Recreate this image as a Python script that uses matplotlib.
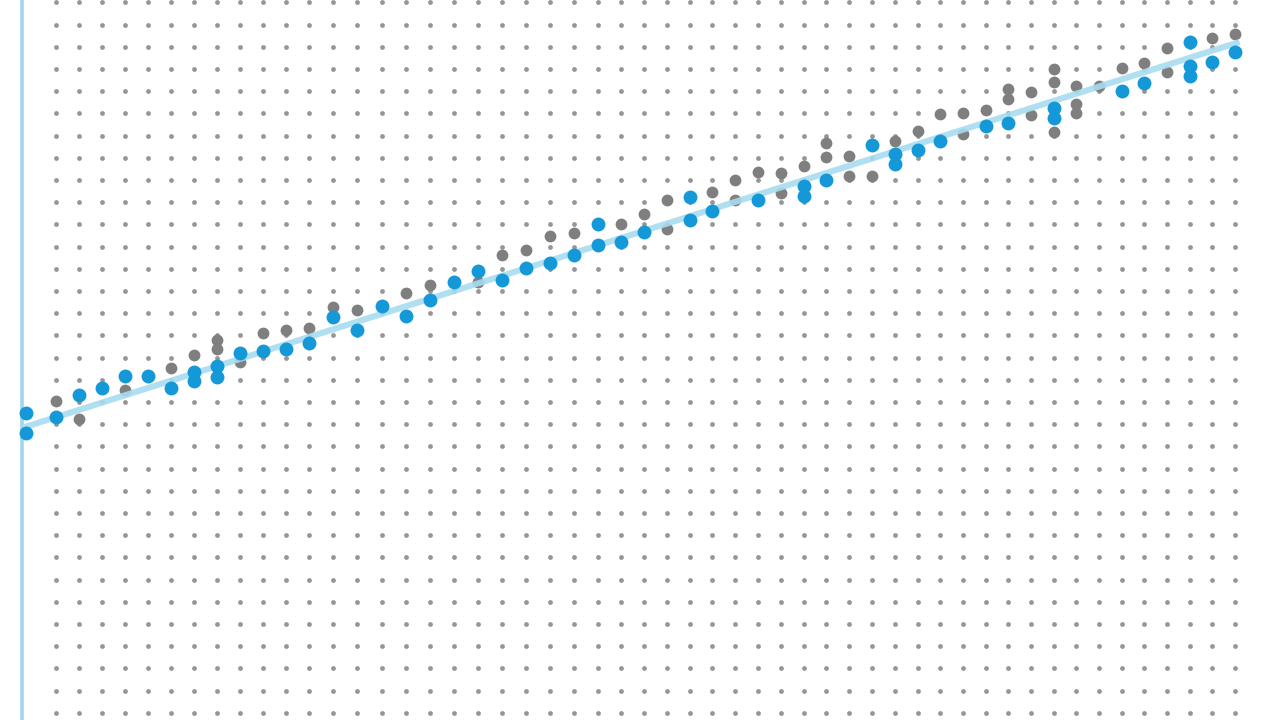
import numpy as np
import matplotlib
matplotlib.use("Agg")
import matplotlib.pyplot as plt

# blue series: (column index, value)
blue_x = [-1.32, -1.32, 0, 1, 2, 3, 4, 5, 6, 6, 7, 7, 8, 9, 10, 11, 12, 13, 14, 15,
          16, 17, 18, 19, 20, 21, 22, 23, 23, 24, 25, 27, 27, 28, 30, 32, 32, 33, 35,
          36, 36, 37, 38, 40, 41, 43, 43, 46, 47, 49, 49, 49, 50, 51]
blue_y = [307, 287, 303, 325, 332, 344, 344, 332, 348, 339, 354, 343, 367, 369, 371,
          377, 403, 390, 414, 404, 420, 438, 449, 440, 452, 457, 465, 496, 475, 478,
          488, 523, 500, 509, 520, 534, 524, 540, 575, 566, 556, 570, 579, 594, 597,
          612, 602, 629, 637, 678, 654, 644, 658, 668]

# gray series
gray_x = [0, 1, 3, 5, 6, 7, 7, 8, 9, 10, 11, 12, 13, 15, 16, 18, 19, 20, 21, 22,
          24, 25, 26, 26, 28, 29, 29, 30, 31, 31, 32, 33, 33, 34, 34, 35, 36, 37, 38,
          39, 39, 40, 41, 41, 42, 42, 43, 43, 43, 44, 44, 44, 45, 46, 47, 48, 48, 50, 51]
gray_y = [319, 301, 330, 352, 365, 380, 371, 358, 387, 390, 392, 413, 410, 427, 435,
          438, 465, 470, 484, 487, 496, 506, 491, 520, 528, 540, 520, 548, 547, 527,
          554, 577, 563, 564, 544, 544, 579, 589, 606, 607, 586, 610, 631, 621, 628,
          605, 651, 638, 588, 634, 616, 607, 634, 652, 657, 672, 648, 682, 686]

# trend line ends
trend_x = [-1.48, 51.2]
trend_y = [292, 678]

# column index -> horizontal position (grid is slightly uneven)
knot_i = [-3, 0, 11, 23, 37, 51, 54]
knot_p = [-13.1, 56, 309.3, 598.3, 917.7, 1235, 1303]


def fwd(v):
    return np.interp(v, knot_i, knot_p)


def inv(p):
    return np.interp(p, knot_p, knot_i)


fig = plt.figure(figsize=(12.8, 7.2), dpi=100)
ax = fig.add_axes([0, 0, 1, 1])
ax.set_xscale('function', functions=(fwd, inv))
ax.set_xlim(inv(0), inv(1280))
ax.set_ylim(0, 720)
ax.axis('off')

# dotted background
gx, gy = np.meshgrid(np.arange(52), 7.3 + 22.2 * np.arange(33))
ax.scatter(gx.ravel(), gy.ravel(), s=12, color='#969696', linewidths=0, zorder=1)

ax.axvline(-1.48, color='#9fd6ea', lw=2.6, zorder=2)

ax.scatter(gray_x, gray_y, s=72, color='#7f7f7f', linewidths=0, zorder=3)
ax.plot(trend_x, trend_y, color='#a6dcf0', lw=4.4, alpha=0.9,
        solid_capstyle='butt', zorder=4)
ax.scatter(blue_x, blue_y, s=100, color='#1598d8', linewidths=0, zorder=5)

fig.savefig('out.png', dpi=100)
